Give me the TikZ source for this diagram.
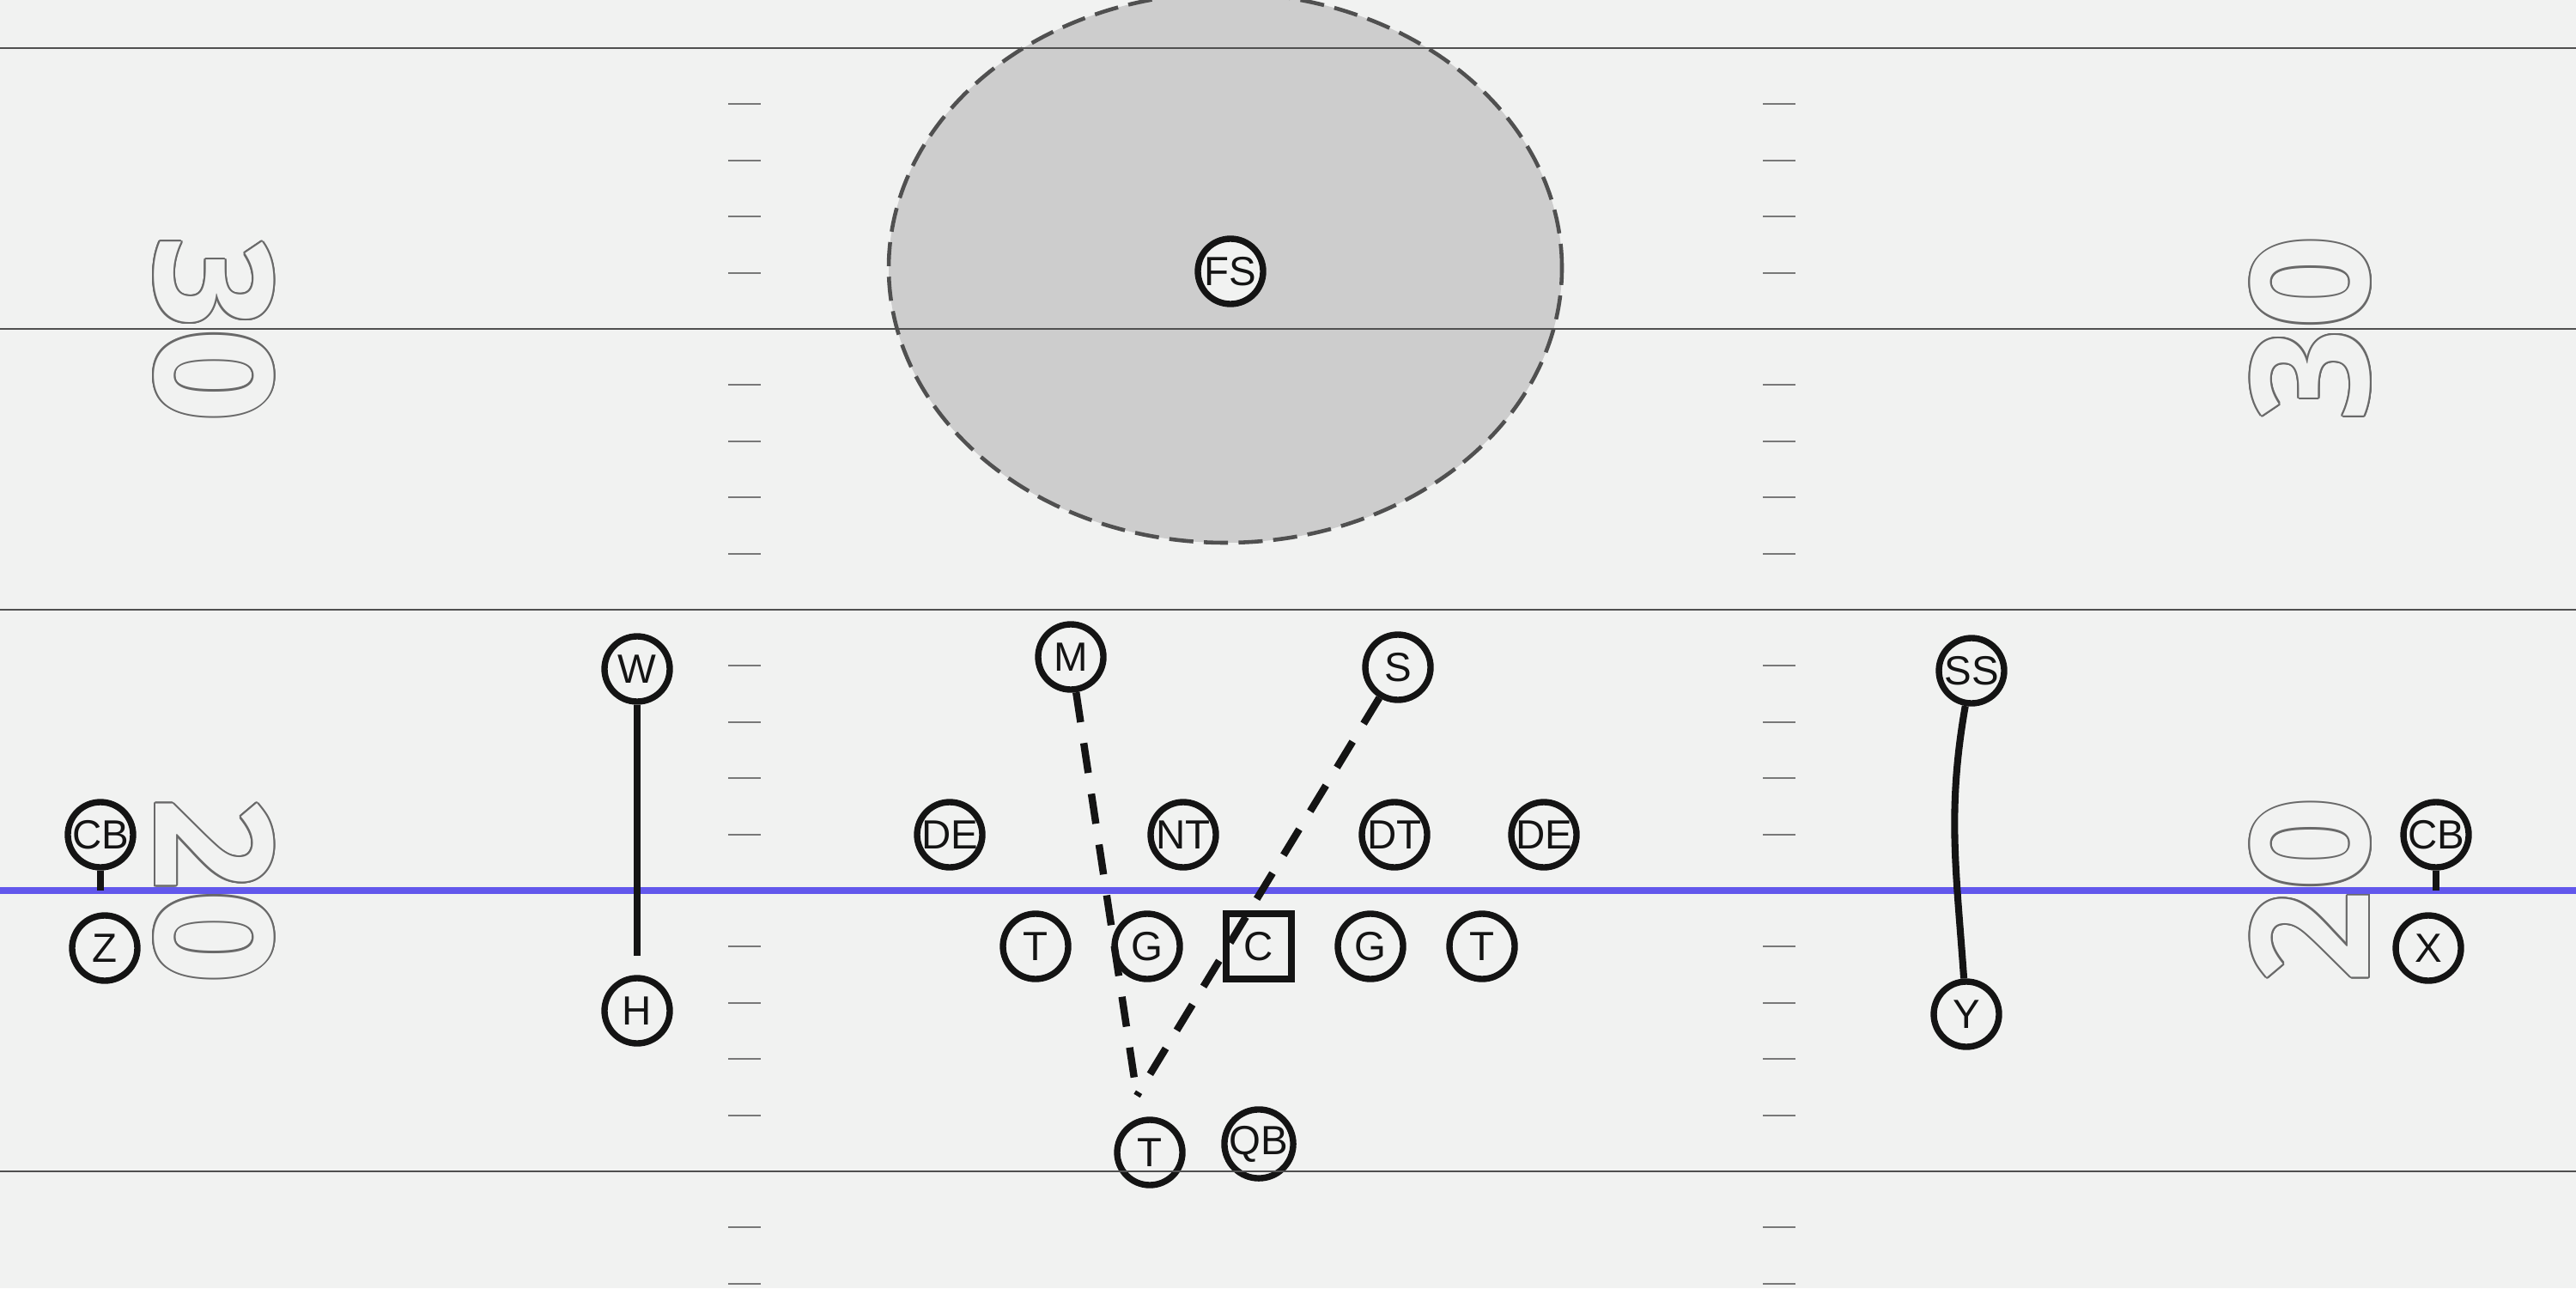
\documentclass[tikz,border=0pt]{standalone}
\usepackage{fontspec}
\setsansfont{Liberation Sans}
\newfontfamily\yardfont{Open Sans}
\usepackage{contour}
\contourlength{0.6pt}
\definecolor{turf}{RGB}{241,242,241}
\definecolor{zone}{RGB}{205,205,205}
\definecolor{chalk}{RGB}{80,80,80}
\definecolor{hashgray}{RGB}{120,120,120}
\definecolor{numgray}{RGB}{105,105,105}
\definecolor{scrimmage}{RGB}{98,88,236}
\definecolor{ink}{RGB}{20,20,20}
\tikzstyle{player} = [circle,draw=ink,line width=2.1pt,fill=turf,minimum size=.76cm,inner sep=0pt,font=\sffamily\fontsize{13.5}{13.5}\selectfont,text=ink]
\tikzstyle{snapper} = [player,rectangle]
\tikzstyle{yardnum} = [font=\yardfont\bfseries\fontsize{54}{54}\selectfont,text=turf,inner sep=0pt]
\tikzstyle{route} = [ink,line width=2.3pt]
\tikzstyle{blitz} = [ink,line width=2.4pt,dash pattern=on 10pt off 7pt]
\begin{document}
\begin{tikzpicture}[node distance=1.3cm]
	\useasboundingbox (0,0) rectangle (30,15);
	\fill[turf] (0,0) rectangle (30,15);
	% deep zone
	\fill[zone] (14.27,11.88) ellipse [x radius=3.92cm, y radius=3.2cm];
	\draw[chalk,line width=1.3pt,dash pattern=on 8pt off 3.5pt] (14.27,11.88) ellipse [x radius=3.92cm, y radius=3.2cm];
	% hash marks
	\foreach \yd in {-7,-6,-4,-3,-2,-1,1,2,3,4,6,7,8,9,11,12,13,14}{
		\draw[hashgray,line width=.6pt] (8.48,{4.63+0.654*\yd}) -- (8.86,{4.63+0.654*\yd});
		\draw[hashgray,line width=.6pt] (20.53,{4.63+0.654*\yd}) -- (20.91,{4.63+0.654*\yd});
	}
	% numbers
	\node[yardnum,rotate=-90] (n30l) at (2.48,11.17) {\contour{numgray}{30}};
	\node[yardnum,rotate=-90] (n20l) at (2.48,4.63) {\contour{numgray}{20}};
	\node[yardnum,rotate=90] (n30r) at (26.92,11.17) {\contour{numgray}{30}};
	\node[yardnum,rotate=90] (n20r) at (26.92,4.63) {\contour{numgray}{20}};
	% line of scrimmage
	\coordinate (los) at (0,4.63);
	\draw[scrimmage,line width=2.3pt] (los) -- (30,4.63);

	\node [snapper] (c) at (14.66,3.98) {C};
	\node [player,left of=c] (lg) {G};
	\node [player,left of=lg] (lt) {T};
	\node [player,right of=c] (rg) {G};
	\node [player,right of=rg] (rt) {T};
	\node [player,below of=c,yshift=-1cm] (qb) {QB};
	\node [player,left of=qb,xshift=.03cm,yshift=-.1cm] (tb) {T};
	\node [player,above of=lt,xshift=-1cm] (lde) {DE};
	\node [player,above of=lg,xshift=.42cm] (nt) {NT};
	\node [player,above of=rg,xshift=.28cm] (dt) {DT};
	\node [player,above of=rt,xshift=.72cm] (rde) {DE};
	\node [player] (m) at (12.47,7.35) {M};
	\node [player] (s) at (16.28,7.23) {S};
	\node [player] (w) at (7.42,7.21) {W};
	\node [player] (h) at (7.42,3.23) {H};
	\node [player] (ss) at (22.96,7.19) {SS};
	\node [player] (y) at (22.90,3.19) {Y};
	\node [player] (lcb) at (1.17,5.28) {CB};
	\node [player] (z) at (1.22,3.96) {Z};
	\node [player] (rcb) at (28.37,5.28) {CB};
	\node [player] (x) at (28.28,3.96) {X};
	\node [player] (fs) at (14.33,11.84) {FS};
	\coordinate (gap) at (13.24,2.24);

	\draw[route,shorten >=.22cm] (w) -- (h);
	\draw[route] (ss) to[out=-100,in=94] (y);
	\draw[route] (lcb) -- (lcb |- los);
	\draw[route] (rcb) -- (rcb |- los);
	\draw[blitz] (m) -- (gap);
	\draw[blitz] (s) -- (gap);

	% yard lines
	\foreach \yd in {-5,5,10,15}
		\draw[chalk,line width=.8pt] (0,{4.63+0.654*\yd}) -- (30,{4.63+0.654*\yd});
\end{tikzpicture}
\end{document}
